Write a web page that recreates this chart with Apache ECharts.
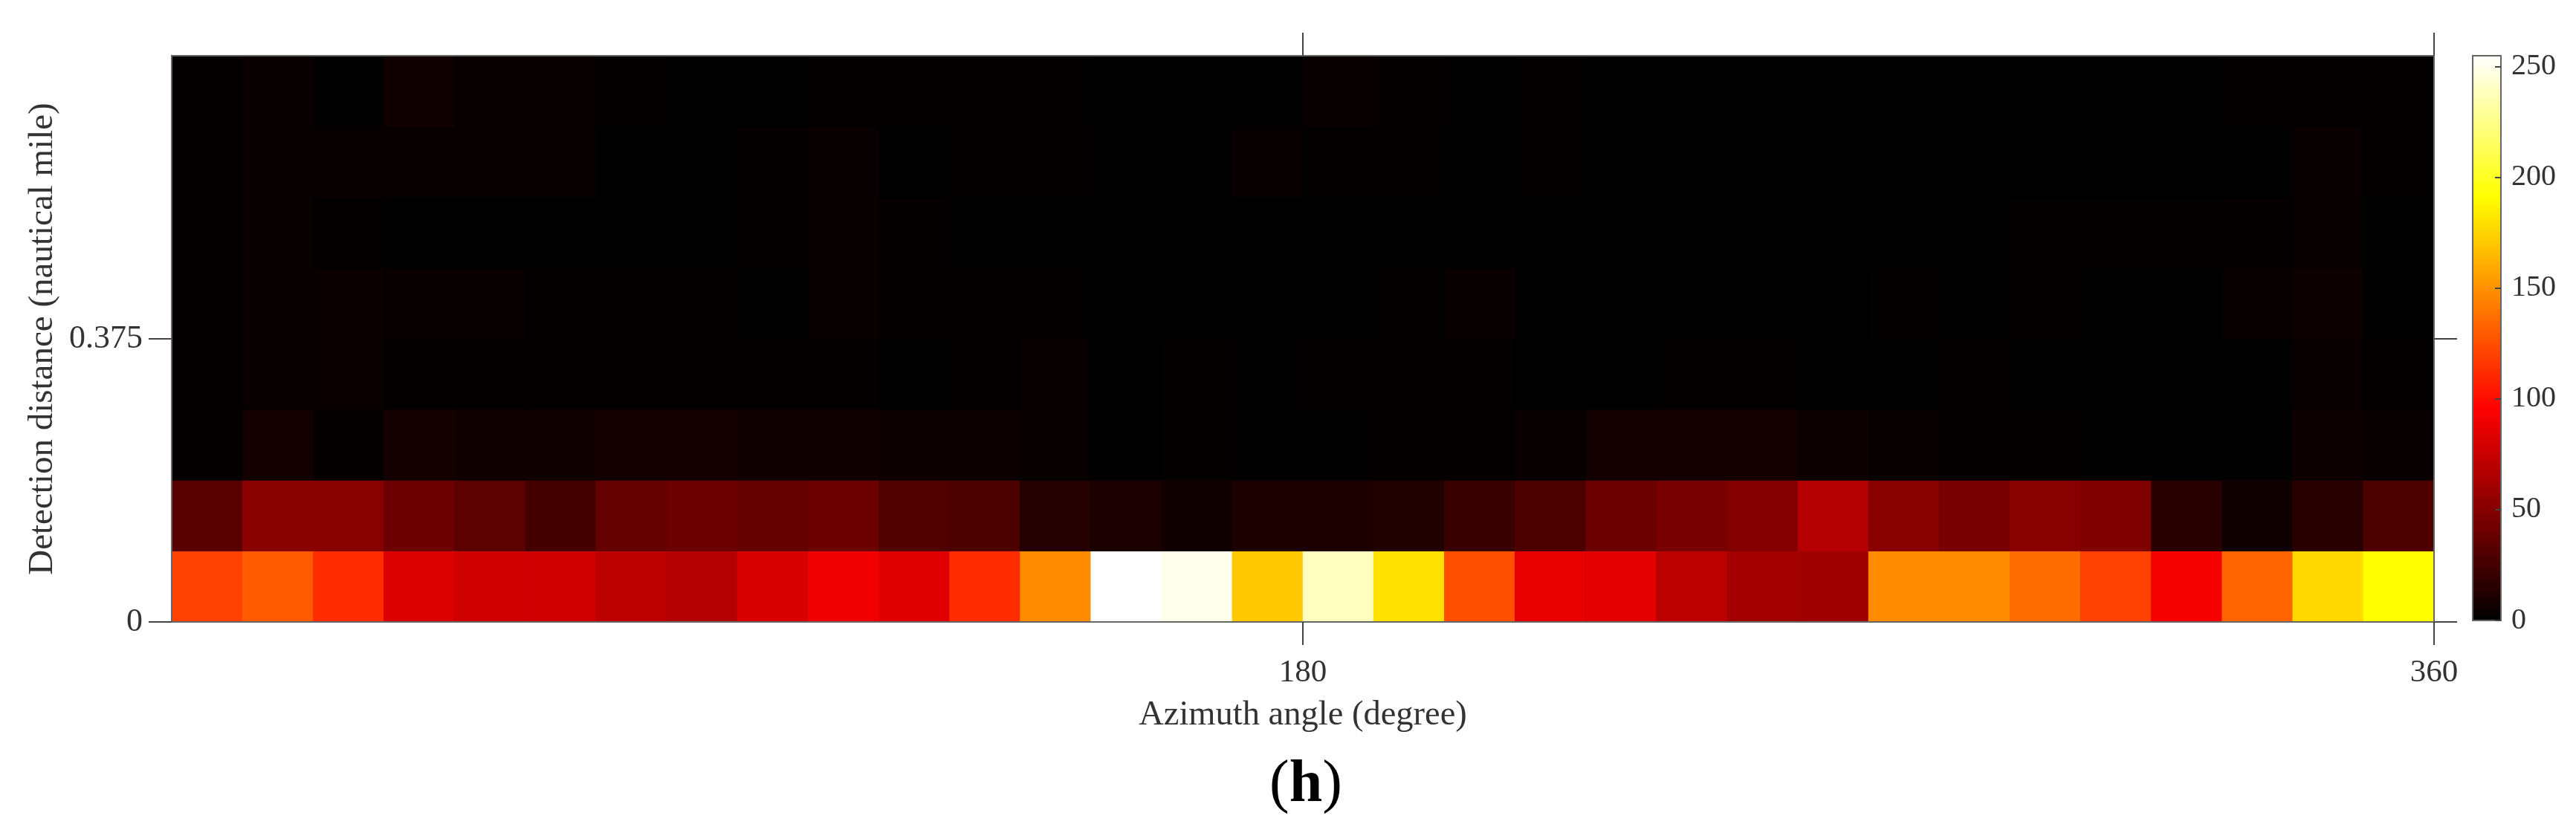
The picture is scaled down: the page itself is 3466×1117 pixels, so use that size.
<!DOCTYPE html>
<html>
<head>
<meta charset="utf-8">
<title>Detection map</title>
<style>
  html, body { margin: 0; padding: 0; background: #fff; }
  #chart { width: 3466px; height: 1117px; }
</style>
<script src="https://cdn.jsdelivr.net/npm/echarts@6/dist/echarts.min.js"></script>
</head>
<body>
<div id="chart"></div>
<script>
// 32 azimuth bins, 8 distance bins (bin start values)
var azimuthBins = ['0', '11.25', '22.5', '33.75', '45', '56.25', '67.5', '78.75',
  '90', '101.25', '112.5', '123.75', '135', '146.25', '157.5', '168.75',
  '180', '191.25', '202.5', '213.75', '225', '236.25', '247.5', '258.75',
  '270', '281.25', '292.5', '303.75', '315', '326.25', '337.5', '348.75']
var distanceBins = ['0', '0.09375', '0.1875', '0.28125', '0.375', '0.46875', '0.5625', '0.65625']

// cell values per distance bin, nearest range first
var row1 = [120, 129.5, 112, 82.5, 78, 78, 70.5, 67.5, 81, 90, 84, 112, 148, 255, 250, 170.5,
  239, 179.5, 125.5, 87, 85.5, 70.5, 61.5, 60, 148, 148, 136, 120, 91.5, 133, 176.5, 191]
var row2 = [33, 51, 51, 40.5, 34.5, 25.5, 37.5, 40.5, 38, 40.5, 30, 28.5, 13.5, 10, 6, 10.5,
  10.5, 12, 21, 28.5, 40.5, 45, 49.5, 67.5, 51, 45, 51, 48, 15, 6, 15, 28.5]
var row3 = [2, 7, 2, 8, 6, 6, 7, 7, 6.5, 6.5, 5, 5, 2.5, 0.5, 1.5, 0.5,
  0.5, 2, 2, 3, 7, 7, 7, 5, 2.5, 2, 1, 0.3, 0.3, 0.3, 5, 3]
var row4 = [2, 3, 4, 2, 2, 2, 1, 1, 1.5, 2, 0.5, 1, 2.5, 0.5, 2, 0.5,
  2, 2, 1, 0.5, 0.5, 1, 1, 0.5, 0.1, 1, 0.5, 0.5, 0.5, 0.3, 3, 1]
var row5 = [2, 3, 4, 3, 3, 2, 1, 1.5, 0.5, 3, 1, 1, 1, 0.5, 0.5, 0.5,
  0.5, 1, 3, 0.5, 0.5, 0.5, 0.5, 0.5, 1, 0.5, 1, 0.5, 0.5, 3, 5, 0.5]
var row6 = [2, 3, 2, 0.5, 0.5, 0.5, 0.5, 0.5, 2, 3, 1.5, 0.5, 0.5, 0.5, 0.5, 0.5,
  0.5, 0.5, 0.5, 0.5, 0.3, 0.3, 0.3, 0.3, 0.3, 0.3, 1, 1, 1, 1.5, 3, 0.5]
var row7 = [2, 3, 3, 3, 3, 3, 0.5, 0.5, 2, 3, 0.5, 1, 1.5, 0.5, 0.5, 3,
  1, 1, 0.5, 1, 0.5, 0.5, 0.5, 0.5, 0.5, 0.5, 0.5, 0.5, 0.5, 0.3, 3, 1]
var row8 = [2, 3, 0.5, 6, 3, 3, 1, 0.5, 0.5, 2, 2, 2, 1, 0.5, 0.5, 0.5,
  3, 2, 0.5, 1, 0.5, 0.5, 0.5, 0.5, 0.5, 0.5, 0.5, 0.5, 0.5, 1.5, 1.5, 1]
var rows = [row1, row2, row3, row4, row5, row6, row7, row8]

var xTicks = [180, 360]
var yTicks = [0, 0.375]
var colorTicks = [0, 50, 100, 150, 200, 250]
var hotColors = ['#000000', '#550000', '#aa0000', '#ff0000', '#ff5500', '#ffaa00', '#ffff00', '#ffff80', '#ffffff']

var cells = []
rows.forEach(function (row, y) {
  row.forEach(function (v, x) {
    cells.push([x, y, v])
  })
})

var lineStyle = { color: '#666', width: 2 }
var tickStyle = { color: '#444', width: 2 }
var serif = '"Liberation Serif", serif'

// value axes only carry ticks and labels; cells sit on the hidden category axes
function tickAxis (pos, min, max, interval, ticks, labelSize, labelMargin) {
  return {
    type: 'value',
    gridIndex: 0,
    position: pos,
    min: min,
    max: max,
    interval: interval,
    z: 5,
    splitLine: { show: false },
    axisLine: { show: true, onZero: false, lineStyle: lineStyle },
    axisTick: { show: true, length: 31, lineStyle: tickStyle, customValues: ticks },
    axisLabel: labelSize
      ? { show: true, customValues: ticks, margin: labelMargin, color: '#333', fontSize: labelSize, fontFamily: serif }
      : { show: false }
  }
}

var bottomAxis = tickAxis('bottom', 0, 360, 180, xTicks, 43, 47)
bottomAxis.name = 'Azimuth angle (degree)'
bottomAxis.nameLocation = 'middle'
bottomAxis.nameGap = 102
bottomAxis.nameMoveOverlap = false
bottomAxis.nameTextStyle = { color: '#333', fontSize: 46.5, fontFamily: serif }

var leftAxis = tickAxis('left', 0, 0.75, 0.375, yTicks, 44, 39)
leftAxis.name = 'Detection distance (nautical mile)'
leftAxis.nameLocation = 'middle'
leftAxis.nameGap = 150
leftAxis.nameMoveOverlap = false
leftAxis.nameTextStyle = { color: '#333', fontSize: 47, fontFamily: serif }

// colorbar frame and ticks
function barAxis (pos, extra) {
  return Object.assign({
    gridIndex: 1,
    type: 'value',
    position: pos,
    min: 0,
    max: 255,
    z: 6,
    splitLine: { show: false },
    axisLine: { show: true, onZero: false, lineStyle: lineStyle },
    axisTick: { show: false },
    axisLabel: { show: false }
  }, extra || {})
}

var option = {
  backgroundColor: '#fff',
  animation: false,
  title: {
    text: '{p|(}{h|h}{p|)}',
    left: 1752,
    top: 1012,
    textAlign: 'center',
    textStyle: {
      rich: {
        p: { fontFamily: serif, fontSize: 80, fontWeight: 'normal', color: '#000' },
        h: { fontFamily: serif, fontSize: 80, fontWeight: 'bold', color: '#000' }
      }
    }
  },
  grid: [
    { left: 231, top: 75, width: 3044, height: 762, show: true, backgroundColor: '#000', borderWidth: 0 },
    { left: 3327, top: 75, width: 38, height: 760 }
  ],
  xAxis: [
    { type: 'category', gridIndex: 0, show: false, data: azimuthBins },
    bottomAxis,
    tickAxis('top', 0, 360, 180, xTicks),
    barAxis('bottom'),
    barAxis('top')
  ],
  yAxis: [
    { type: 'category', gridIndex: 0, show: false, data: distanceBins },
    leftAxis,
    tickAxis('right', 0, 0.75, 0.375, yTicks),
    barAxis('left', { interval: 50 }),
    barAxis('right', {
      interval: 50,
      axisTick: { show: true, inside: true, length: 8, lineStyle: tickStyle, customValues: colorTicks },
      axisLabel: { show: true, customValues: colorTicks, margin: 14, padding: [8, 0, 0, 0], color: '#333', fontSize: 40, fontFamily: serif }
    })
  ],
  visualMap: {
    type: 'continuous',
    seriesIndex: 0,
    dimension: 2,
    min: 0,
    max: 255,
    calculable: false,
    hoverLink: false,
    left: 3327,
    top: 75,
    padding: 0,
    itemWidth: 38,
    itemHeight: 760,
    z: 1,
    inRange: { color: hotColors }
  },
  series: [{
    type: 'heatmap',
    xAxisIndex: 0,
    yAxisIndex: 0,
    data: cells,
    itemStyle: { borderWidth: 0 },
    emphasis: { disabled: true }
  }]
}

var chart = echarts.init(document.getElementById('chart'))
chart.setOption(option)
</script>
</body>
</html>
